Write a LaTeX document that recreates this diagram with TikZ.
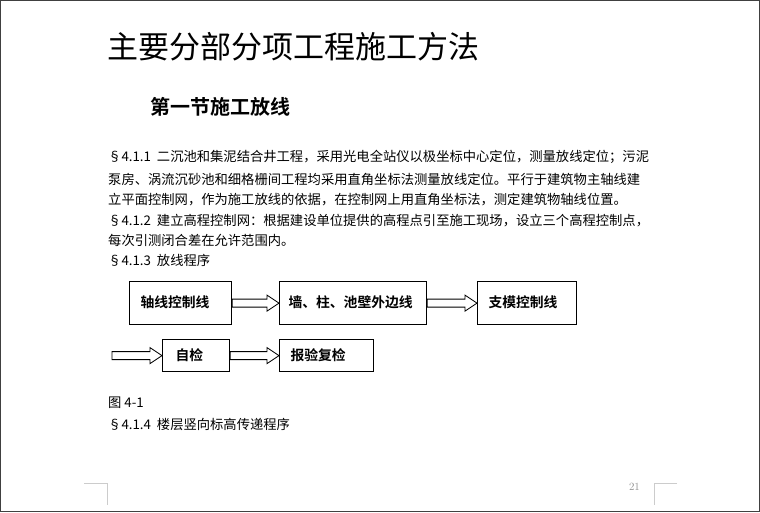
\documentclass[tikz,border=0pt]{standalone}
\usepackage{fontspec}
\newfontfamily\cjk{Noto Sans CJK SC}
\newfontfamily\cjkb{Noto Sans CJK SC Bold}
\usetikzlibrary{calc}

\tikzset{
  stepbox/.style={draw,line width=1.2pt,anchor=north west,inner sep=0pt},
  boxtext/.style={font=\cjkb\fontsize{13.8}{15}\selectfont},
  bodyline/.style={anchor=west,inner sep=0pt,font=\cjk\fontsize{13.3}{16}\selectfont},
  hollow/.style={draw,line width=0.8pt,fill=white},
}

% hollow arrow from the east side of one node to the west side of another
\newcommand{\hollowarrow}[2]{%
  \draw[hollow] let \p1=(#1.east), \p2=(#2.west) in
    (\x1,\y2+4) -- (\x2-12,\y2+4) -- (\x2-12,\y2+8) -- (\x2,\y2)
    -- (\x2-12,\y2-8) -- (\x2-12,\y2-4) -- (\x1,\y2-4) -- cycle;}

\begin{document}
\begin{tikzpicture}[x=1pt,y=-1pt]
  \useasboundingbox (0,0) rectangle (760,512);
  % page frame
  \draw[line width=1.5pt,black!75] (0.7,0.7) rectangle (759.3,511.3);
  % corner marks
  \draw[black!20,line width=0.8pt] (84,483) -- (107,483) -- (107,505);
  \draw[black!20,line width=0.8pt] (677,483) -- (654,483) -- (654,505);
  \node[anchor=east,inner sep=0pt,text=black!45,font=\fontsize{11}{12}\selectfont] (pgnum) at (640,487) {21};

  % headings
  \node[anchor=west,inner sep=0pt,font=\cjk\fontsize{31}{34}\selectfont] (title) at (107,47) {主要分部分项工程施工方法};
  \node[anchor=west,inner sep=0pt,font=\cjkb\fontsize{20}{22}\selectfont] (section) at (150,107) {第一节施工放线};

  % body text
  \node[bodyline] (l1) at (108,157) {§4.1.1\ \ 二沉池和集泥结合井工程，采用光电全站仪以极坐标中心定位，测量放线定位；污泥};
  \node[bodyline] (l2) at (108,179) {泵房、涡流沉砂池和细格栅间工程均采用直角坐标法测量放线定位。平行于建筑物主轴线建};
  \node[bodyline] (l3) at (108,200) {立平面控制网，作为施工放线的依据，在控制网上用直角坐标法，测定建筑物轴线位置。};
  \node[bodyline] (l4) at (108,221) {§4.1.2\ \ 建立高程控制网：根据建设单位提供的高程点引至施工现场，设立三个高程控制点，};
  \node[bodyline] (l5) at (108,240) {每次引测闭合差在允许范围内。};
  \node[bodyline] (l6) at (108,260) {§4.1.3\ \ 放线程序};

  % flow chart
  \node[stepbox,minimum width=102pt,minimum height=43pt] (axis) at (129,281) {};
  \node[boxtext,anchor=west] at ($(axis.west)+(8,-1)$) {轴线控制线};
  \node[stepbox,minimum width=147pt,minimum height=43pt] (wall) at (279,281) {};
  \node[boxtext,anchor=west] at ($(wall.west)+(6,-1)$) {墙、柱、池壁外边线};
  \node[stepbox,minimum width=99pt,minimum height=43pt] (form) at (477,281) {};
  \node[boxtext,anchor=west] at ($(form.west)+(8,-1)$) {支模控制线};
  \node[stepbox,minimum width=67pt,minimum height=32pt] (check) at (162,339) {};
  \node[boxtext,anchor=west] at ($(check.west)+(10,0)$) {自检};
  \node[stepbox,minimum width=94pt,minimum height=32pt] (recheck) at (279,339) {};
  \node[boxtext,anchor=west] at ($(recheck.west)+(8,0)$) {报验复检};
  \coordinate (start) at (112,355);

  \hollowarrow{axis}{wall}
  \hollowarrow{wall}{form}
  \hollowarrow{start}{check}
  \hollowarrow{check}{recheck}
  \draw[dashed,line width=0.8pt] ($(check.east)+(2,-4)$) -- ($(recheck.west)+(-14,-4)$);

  \node[bodyline] (fig) at (108,403) {图 4-1};
  \node[bodyline] (l7) at (108,424) {§4.1.4\ \ 楼层竖向标高传递程序};
\end{tikzpicture}
\end{document}
